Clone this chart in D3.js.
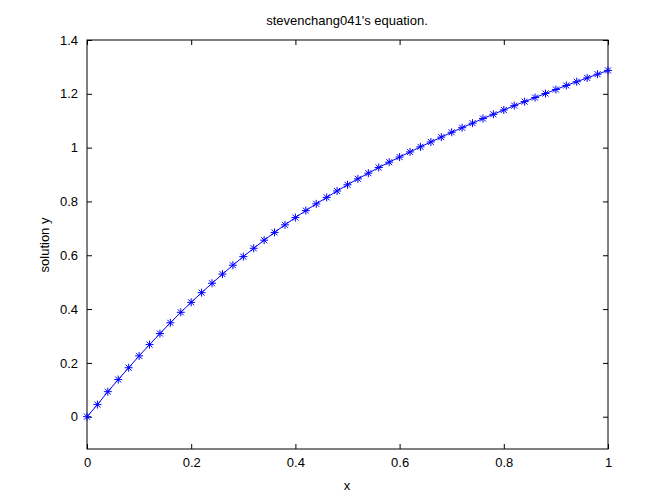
<!DOCTYPE html>
<html><head><meta charset="utf-8">
<script src="https://cdn.jsdelivr.net/npm/d3@7"></script>
<style>body{margin:0;background:#fff}text{font-family:"Liberation Sans",Arial,sans-serif;font-size:13px}</style>
</head><body><svg id="c" width="672" height="504"></svg>
<script>
const xs = d3.range(51).map(i => i / 50)
const ys = [0,0.045,0.093,0.138,0.182,0.226,0.268,0.309,0.349,0.388,0.425,0.461,0.496,0.530,0.563,0.595,0.626,0.656,0.685,0.713,0.740,0.766,0.791,0.815,0.839,0.862,0.884,0.905,0.926,0.946,0.965,0.984,1.003,1.021,1.039,1.057,1.074,1.091,1.108,1.124,1.140,1.156,1.171,1.186,1.201,1.216,1.231,1.245,1.259,1.273,1.287]
const xTicks = [0,0.2,0.4,0.6,0.8,1]
const yTicks = [0,0.2,0.4,0.6,0.8,1,1.2,1.4]

const svg = d3.select("#c")
const x = d3.scaleLinear().domain([0,1]).range([87,608])
const y = d3.scaleLinear().domain([-0.12,1.4]).range([449,40])

svg.append("rect").attr("x",87).attr("y",40).attr("width",521).attr("height",409)
    .attr("fill","none").attr("stroke","#000")

const g = svg.append("g")
g.append("g").attr("transform","translate(0,449)")
    .call(d3.axisBottom(x).tickValues(xTicks).tickSizeInner(-5).tickSizeOuter(0).tickPadding(9).tickFormat(d3.format("")))
g.append("g").attr("transform","translate(0,40)")
    .call(d3.axisTop(x).tickValues(xTicks).tickSizeInner(-5).tickSizeOuter(0).tickFormat(""))
g.append("g").attr("transform","translate(87,0)")
    .call(d3.axisLeft(y).tickValues(yTicks).tickSizeInner(-5).tickSizeOuter(0).tickPadding(9).tickFormat(d3.format("")))
g.append("g").attr("transform","translate(608,0)")
    .call(d3.axisRight(y).tickValues(yTicks).tickSizeInner(-5).tickSizeOuter(0).tickFormat(""))
g.selectAll(".domain").remove()
g.selectAll("text").attr("fill","#000").style("font-size","13px")

const pts = xs.map((v,i)=>[v,ys[i]])
svg.append("path").datum(pts).attr("fill","none").attr("stroke","#0000ff").attr("stroke-width",1)
    .attr("d", d3.line().x(d=>x(d[0])).y(d=>y(d[1])))

const star = "M-4,0H4M0,-4V4M-3,-3L3,3M-3,3L3,-3"
svg.append("g").selectAll("path").data(pts).enter().append("path")
    .attr("transform", d=>`translate(${x(d[0])},${y(d[1])})`)
    .attr("d", star).attr("stroke","#0000ff").attr("stroke-width",1).attr("fill","none")

svg.append("text").attr("x",347).attr("y",25).attr("text-anchor","middle").text("stevenchang041's equation.")
svg.append("text").attr("x",347).attr("y",490).attr("text-anchor","middle").text("x")
svg.append("text").attr("transform","translate(49,245) rotate(-90)").attr("text-anchor","middle").text("solution y")
</script></body></html>
